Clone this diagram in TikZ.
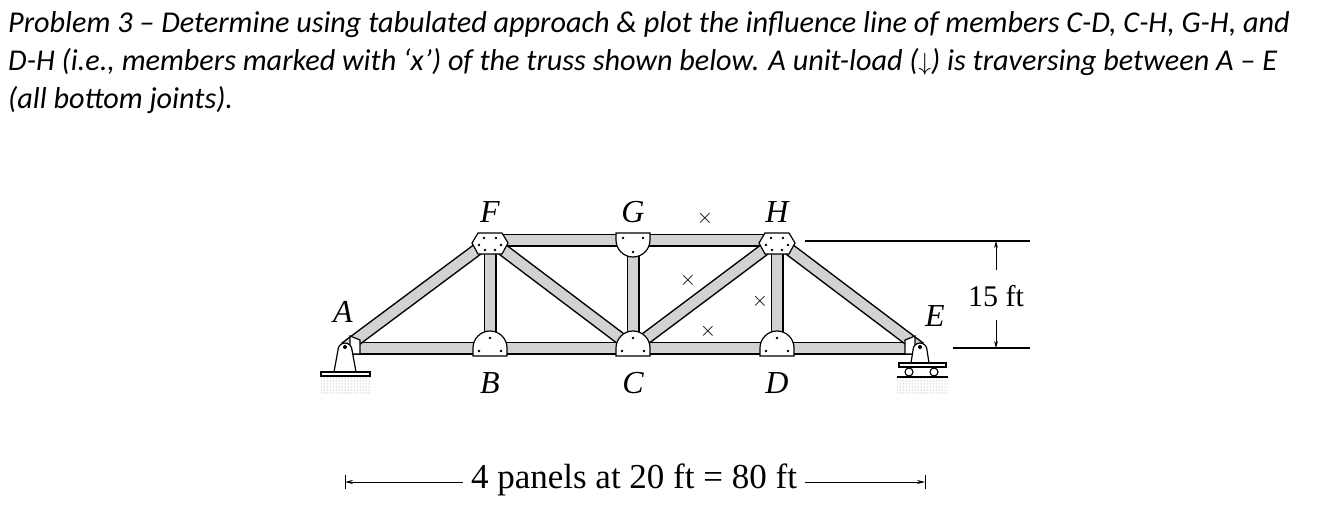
\documentclass[tikz,border=0pt]{standalone}
\usepackage{fontspec}
\setmainfont{Liberation Serif}
\newfontfamily\calfont{Carlito}
\usetikzlibrary{arrows.meta,patterns,calc}
\begin{document}
\begin{tikzpicture}[x=1pt,y=-1pt,
 lbl/.style={font=\fontsize{32}{32}\selectfont\itshape},
 xm/.style={font=\fontsize{20}{20}\selectfont},
 plate/.style={draw,fill=white,line width=1.2pt}]
\useasboundingbox (0,0) rectangle (1327,513);
\node[anchor=north west,align=left,inner sep=0pt,font=\calfont\fontsize{30.2}{38}\selectfont\itshape] (title) at (8,11)
{Problem 3 – Determine using tabulated approach \& plot the influence line of members C-D, C-H, G-H, and\\
D-H (i.e., members marked with ‘x’) of the truss shown below. A unit-load (\textup{$\mathbf{\downarrow}$}) is traversing between A – E\\
(all bottom joints).};
% joints
\coordinate (A) at (345,348); \coordinate (B) at (490,348); \coordinate (C) at (633,348);
\coordinate (D) at (777,348); \coordinate (E) at (920,348);
\coordinate (F) at (490,240); \coordinate (G) at (633,240); \coordinate (H) at (777,240);
% members
\foreach \p/\q in {A/B,B/C,C/D,D/E,F/G,G/H,A/F,H/E,F/B,G/C,H/D,F/C,C/H}{
 \draw[line width=13pt,line cap=butt] (\p)--(\q);
 \draw[line width=10pt,gray!35,line cap=butt] (\p)--(\q);}
% gussets
\foreach \j in {B,C,D}{
 \draw[plate] ($(\j)+(-17,8)$) -- ($(\j)+(-17,0)$) arc(180:360:17) -- ($(\j)+(17,8)$) -- cycle;
 \fill ($(\j)+(0,-10)$) circle(1.3) ($(\j)+(-11,3)$) circle(1.3) ($(\j)+(11,3)$) circle(1.3);}
\draw[plate] ($(G)+(-17,-7)$) -- ($(G)+(-17,0)$) arc(180:0:17) -- ($(G)+(17,-7)$) -- cycle;
\fill ($(G)+(0,12)$) circle(1.3) ($(G)+(-10,-2)$) circle(1.3) ($(G)+(10,-2)$) circle(1.3);
\foreach \j in {F,H}{
 \draw[plate] ($(\j)+(-12,-7)$) -- ($(\j)+(12,-7)$) -- ($(\j)+(18,3)$) -- ($(\j)+(12,14)$) -- ($(\j)+(-12,14)$) -- ($(\j)+(-18,3)$) -- cycle;
 \fill ($(\j)+(-6,-2)$) circle(1.3) ($(\j)+(6,-2)$) circle(1.3) ($(\j)+(-11,5)$) circle(1.3) ($(\j)+(11,5)$) circle(1.3) ($(\j)+(-5,10)$) circle(1.3) ($(\j)+(5,10)$) circle(1.3);}
\draw[plate] (350,336) -- (360,340) -- (360,354) -- (350,354) -- cycle;
\draw[plate] (915,336) -- (905,340) -- (905,354) -- (915,354) -- cycle;
% support A
\draw[plate] (334,372) -- (338,350) arc(180:360:7) -- (356,372) -- cycle;
\fill (345,347) circle(2);
\draw[line width=1.2pt] (321,372) rectangle (370,376);
\fill[pattern=dots,pattern color=gray] (321,377) rectangle (370,393);
% support E
\draw[plate] (911,363) -- (913,350) arc(180:360:7) -- (929,363) -- cycle;
\fill (920,347) circle(2);
\draw[line width=1.2pt] (899,363) rectangle (946,367);
\draw[line width=1.1pt,fill=white] (909,372) circle(4) (934,372) circle(4);
\draw[line width=1.2pt] (897,377) -- (948,377);
\fill[pattern=dots,pattern color=gray] (897,378) rectangle (948,393);
% labels
\node[lbl] (lA) at (343,312) {A}; \node[lbl] (lB) at (490,383) {B};
\node[lbl] (lC) at (633,383) {C}; \node[lbl] (lD) at (777,383) {D};
\node[lbl] (lE) at (935,316) {E}; \node[lbl] (lF) at (490,212) {F};
\node[lbl] (lG) at (633,212) {G}; \node[lbl] (lH) at (777,212) {H};
\node[xm] (x1) at (705,218) {$\times$}; \node[xm] (x2) at (688,280) {$\times$};
\node[xm] (x3) at (760,301) {$\times$}; \node[xm] (x4) at (708,331) {$\times$};
% height dimension
\draw[line width=1.2pt] (805,241) -- (1030,241);
\draw[line width=1.2pt] (953,348) -- (1030,348);
\node[font=\fontsize{30}{30}\selectfont] (h) at (996,296) {15 ft};
\coordinate (ht) at (996,241); \coordinate (hb) at (996,348);
\draw[-{Stealth[length=7pt,width=4pt]},line width=0.8pt] (996,270) -- (ht);
\draw[-{Stealth[length=7pt,width=4pt]},line width=0.8pt] (996,320) -- (hb);
% span dimension
\node[font=\fontsize{35}{35}\selectfont,inner xsep=8pt] (span) at (634,480) {4 panels at 20 ft = 80 ft};
\coordinate (sl) at (345,482); \coordinate (sr) at (925,482);
\draw[line width=0.8pt] (345,475) -- (345,489) (925,475) -- (925,489);
\draw[{Stealth[length=8pt,width=4pt]}-,line width=0.8pt] (sl) -- (sl-|span.west);
\draw[-{Stealth[length=8pt,width=4pt]},line width=0.8pt] (sr-|span.east) -- (sr);
\end{tikzpicture}
\end{document}
